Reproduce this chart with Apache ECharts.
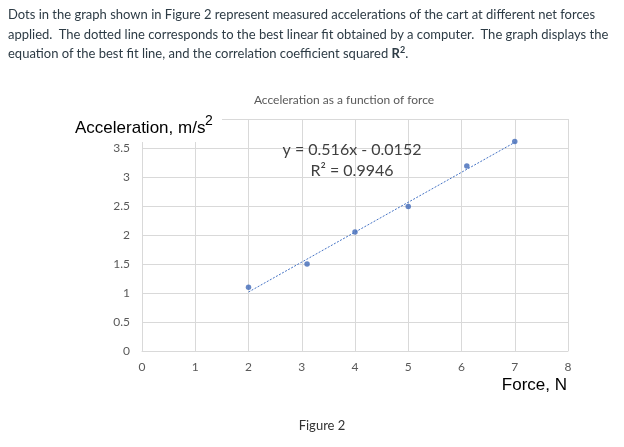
<!DOCTYPE html>
<html style="height: 100%">
<head>
<meta charset="utf-8">
<script type="text/javascript" src="https://cdn.jsdelivr.net/npm/echarts@6/dist/echarts.min.js"></script>
<style>
  body { margin: 0; background: #fff; }
  #intro {
    position: absolute; left: 8px; top: 5px;
    font-family: Lato, "Open Sans", sans-serif; font-size: 13px;
    line-height: 19.5px; color: #2d3b45; white-space: nowrap;
  }
  #intro sup { font-size: 9px; line-height: 0; }
  #echart { position: absolute; left: 0; top: 0; width: 624px; height: 447px; }
</style>
</head>
<body>
<div id="echart"></div>
<div id="intro">
Dots in the graph shown in Figure 2 represent measured accelerations of the cart at different net forces<br>
applied.&nbsp; The dotted line corresponds to the best linear fit obtained by a computer.&nbsp; The graph displays the<br>
equation of the best fit line, and the correlation coefficient squared <b>R<sup>2</sup></b>.
</div>

<script type="text/javascript">
var forceN = [2.0, 3.1, 4.0, 5.0, 6.1, 7.0];
var accel = [1.10, 1.50, 2.05, 2.49, 3.19, 3.61];

// best fit shown on the graph
var fitSlope = 0.516;
var fitIntercept = -0.0152;
var fitR2 = 0.9946;

var xTicks = [0, 1, 2, 3, 4, 5, 6, 7, 8];
var yTicks = [0, 0.5, 1, 1.5, 2, 2.5, 3, 3.5, 4];

var chart = echarts.init(document.getElementById('echart'));

var points = [];
for (var i = 0; i < forceN.length; i++) {
    points.push([forceN[i], accel[i]]);
}
// trend line runs over the range of the data
var xFirst = forceN[0], xLast = forceN[forceN.length - 1];
var fitLine = [
    [xFirst, fitSlope * xFirst + fitIntercept],
    [xLast, fitSlope * xLast + fitIntercept]
];

var gridColor = '#d9d9d9';
var tickColor = '#595959';

chart.setOption({
    animation: false,
    grid: { left: 142, right: 56, top: 119, bottom: 96 },
    xAxis: {
        type: 'value', min: xTicks[0], max: xTicks[xTicks.length - 1], interval: 1,
        axisLine: { lineStyle: { color: gridColor } },
        axisTick: { show: false },
        splitLine: { lineStyle: { color: gridColor } },
        axisLabel: { margin: 10, fontFamily: 'Lato', fontSize: 12, color: tickColor }
    },
    yAxis: {
        type: 'value', min: yTicks[0], max: yTicks[yTicks.length - 1], interval: 0.5,
        axisLine: { show: true, lineStyle: { color: gridColor } },
        axisTick: { show: false },
        splitLine: { lineStyle: { color: gridColor } },
        axisLabel: {
            margin: 12, fontFamily: 'Lato', fontSize: 12, color: tickColor,
            formatter: function (v) { return v === 4 ? '' : String(v); }
        }
    },
    series: [
        {
            type: 'line', data: fitLine, symbol: 'none', silent: true,
            lineStyle: { color: '#4472c4', width: 1, type: [2, 1.5] }
        },
        {
            type: 'scatter', data: points, symbolSize: 5.5,
            itemStyle: { color: '#4069b8' }
        }
    ],
    graphic: [
        { type: 'text', x: 344, y: 94, z: 51,
          style: { text: 'Acceleration as a function of force', font: '12px Lato', fill: tickColor, align: 'center' } },
        { type: 'rect', left: 60, top: 112, shape: { width: 162, height: 30 }, style: { fill: '#fff' }, z: 50 },
        { type: 'text', left: 75, top: 120, z: 51,
          style: { text: 'Acceleration, m/s', font: '17px "Liberation Sans"', fill: '#000' } },
        { type: 'text', left: 205, top: 114, z: 51,
          style: { text: '2', font: '14px "Liberation Sans"', fill: '#000' } },
        { type: 'text', right: 57, top: 377, z: 51,
          style: { text: 'Force, N', font: '17px "Liberation Sans"', fill: '#000' } },
        { type: 'text', x: 352, y: 142, z: 51,
          style: { text: 'y = ' + fitSlope + 'x - ' + Math.abs(fitIntercept), font: '16px Lato', fill: '#404040', align: 'center' } },
        { type: 'text', x: 352, y: 163, z: 51,
          style: { text: 'R² = ' + fitR2, font: '16px Lato', fill: '#404040', align: 'center' } },
        { type: 'text', x: 322, y: 419, z: 51,
          style: { text: 'Figure 2', font: '13px Lato', fill: '#333', align: 'center' } }
    ]
});
</script>
</body>
</html>
